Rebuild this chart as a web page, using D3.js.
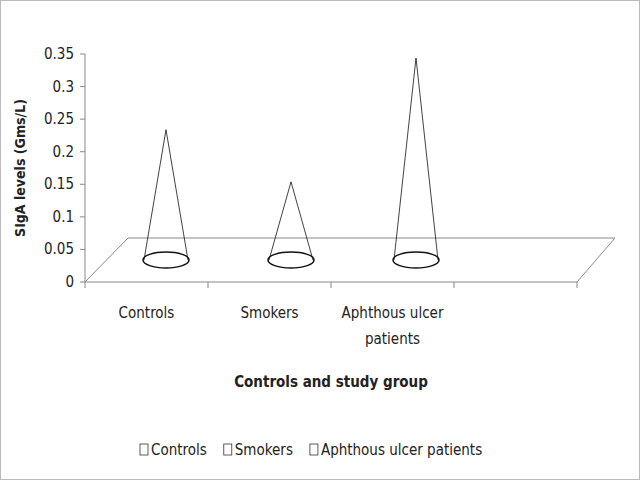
<!DOCTYPE html>
<html><head><meta charset="utf-8">
<script src="https://cdn.jsdelivr.net/npm/d3@7"></script>
<style>body{margin:0;background:#fff}text{font-family:"DejaVu Sans Condensed","DejaVu Sans",sans-serif;fill:#222}</style>
</head><body>
<script>
const categories = ['Controls', 'Smokers', 'Aphthous ulcer patients']
const values = [0.2, 0.12, 0.31]
const yTicks = [0, 0.05, 0.1, 0.15, 0.2, 0.25, 0.3, 0.35]
const bands = ['Controls', 'Smokers', 'Aphthous ulcer patients', '']

const width = 640, height = 480
const dx = 43, dy = 44   // 3D depth offset of the floor
const svg = d3.select('body').append('svg').attr('width', width).attr('height', height)

svg.append('rect').attr('x', 0.5).attr('y', 0.5).attr('width', width - 1).attr('height', height - 1)
    .attr('fill', '#fff').attr('stroke', '#bbb')

const x = d3.scaleBand().domain(bands).range([85, 577])
const y = d3.scaleLinear().domain([0, 0.35]).range([282, 54])

// y axis
svg.append('line').attr('x1', 85).attr('x2', 85).attr('y1', y(0)).attr('y2', y(0.35)).attr('stroke', '#888')
yTicks.forEach(t => {
    svg.append('line').attr('x1', 80).attr('x2', 85).attr('y1', y(t)).attr('y2', y(t)).attr('stroke', '#888')
    svg.append('text').attr('x', 74).attr('y', y(t) + 5).attr('text-anchor', 'end')
        .attr('font-size', 15).text(t)
})
svg.append('text').attr('transform', `translate(25,${y(0.175)}) rotate(-90)`).attr('text-anchor', 'middle')
    .attr('font-size', 14).attr('font-weight', 'bold').text('SIgA levels (Gms/L)')

// floor
const x0 = x.range()[0], x1 = x.range()[1]
svg.append('path').attr('d', `M${x0},${y(0)}L${x0 + dx},${y(0) - dy}L${x1 + dx - 5},${y(0) - dy}L${x1},${y(0)}Z`)
    .attr('fill', 'none').attr('stroke', '#888')
bands.concat(['']).forEach((b, i) => {
    const xx = x0 + i * x.step()
    svg.append('line').attr('x1', xx).attr('x2', xx).attr('y1', y(0)).attr('y2', y(0) + 6).attr('stroke', '#888')
})

// category labels
categories.forEach((c, i) => {
    const cx = x(bands[i]) + x.bandwidth() / 2
    const lines = i === 2 ? ['Aphthous ulcer', 'patients'] : [c]
    lines.forEach((l, j) => svg.append('text').attr('x', cx).attr('y', 318 + j * 26)
        .attr('text-anchor', 'middle').attr('font-size', 15).text(l))
})
svg.append('text').attr('x', 331).attr('y', 387).attr('text-anchor', 'middle')
    .attr('font-size', 15).attr('font-weight', 'bold').text('Controls and study group')

// cones
const base0 = y(0) - dy / 2
values.forEach((v, i) => {
    const cx = x(bands[i]) + x.bandwidth() / 2 + dx / 2 - 2 + i * 2
    const apex = base0 - (y(0) - y(v))
    const g = svg.append('g').attr('fill', 'none').attr('stroke', '#111')
    g.append('path').attr('d', `M${cx - 22},${base0}L${cx},${apex}L${cx + 22},${base0}`).attr('stroke-width', 0.8)
    g.append('ellipse').attr('cx', cx).attr('cy', base0).attr('rx', 23).attr('ry', 8).attr('stroke-width', 1.5)
})

// legend
let lx = 140
categories.forEach(c => {
    svg.append('rect').attr('x', lx).attr('y', 444).attr('width', 8).attr('height', 11)
        .attr('fill', '#fff').attr('stroke', '#333').attr('stroke-width', 0.8)
    const t = svg.append('text').attr('x', lx + 11).attr('y', 455).attr('font-size', 15).text(c)
    lx += t.node().getComputedTextLength() + 28
})
</script>
</body></html>
